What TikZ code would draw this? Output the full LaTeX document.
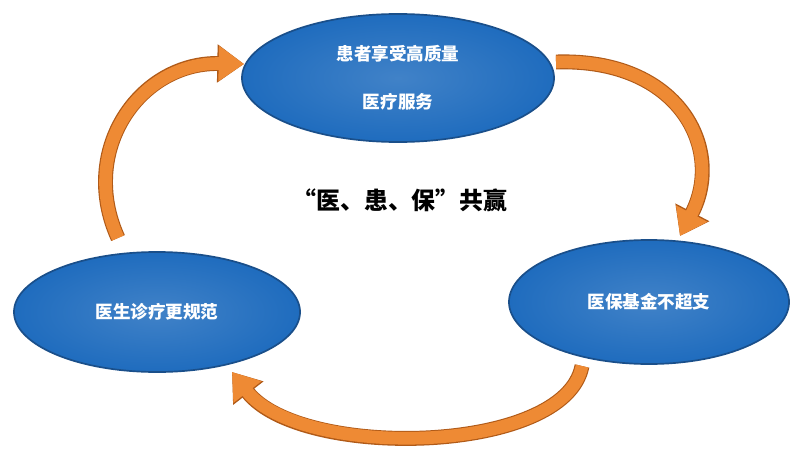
\documentclass[tikz,border=0pt]{standalone}
\usepackage{fontspec}
\setmainfont{Noto Sans CJK SC}
\usetikzlibrary{arrows.meta,shapes.geometric}
\definecolor{ebl}{HTML}{1F6CBE}
\definecolor{ebd}{HTML}{1A4F8A}
\definecolor{aor}{HTML}{EE8A34}
\definecolor{aod}{HTML}{B05A18}
\tikzset{
 ell/.style={ellipse,draw=ebd,line width=1.2pt,inner color=ebl!85!white,outer color=ebl,text=white,font=\bfseries\fontsize{12.5}{34}\selectfont,align=center},
 carrow/.style={line width=9pt,draw=aor,-{Triangle[length=18pt,width=24pt]},preaction={draw=aod,line width=10.6pt,-{Triangle[length=19pt,width=26pt]}}}
}
\begin{document}
\begin{tikzpicture}[x=0.025cm,y=-0.025cm]
\useasboundingbox[fill=white] (0,0) rectangle (800,466);
\node[ell,minimum width=7.8cm,minimum height=3.2cm] (top) at (398,78) {患者享受高质量\\医疗服务};
\node[ell,minimum width=7.15cm,minimum height=3.0cm] (left) at (157,312) {医生诊疗更规范};
\node[ell,minimum width=7.0cm,minimum height=3.1cm] (right) at (649,302) {医保基金不超支};
\node[font=\bfseries\fontsize{17}{20}\selectfont] (mid) at (400,200) {“医、患、保”共赢};
\coordinate (a1) at (118,238); \coordinate (a2) at (244,64);
\coordinate (b1) at (556,62); \coordinate (b2) at (680,236);
\coordinate (c1) at (582,366); \coordinate (c2) at (232,372);
\draw[carrow] (a1) .. controls (78,150) and (140,62) .. (a2);
\draw[carrow] (b1) .. controls (680,58) and (725,150) .. (b2);
\draw[carrow] (c1) .. controls (565,455) and (300,460) .. (c2);
\end{tikzpicture}
\end{document}
